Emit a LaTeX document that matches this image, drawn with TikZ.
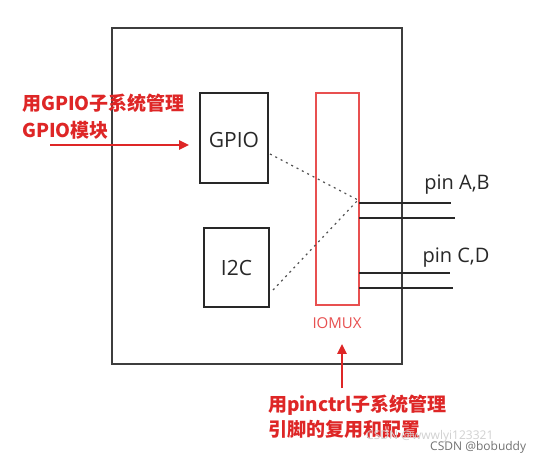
\documentclass[tikz,border=0pt]{standalone}
\usepackage{fontspec}
\setmainfont{Open Sans}
\newfontfamily\cjk{Noto Sans CJK SC}
\usetikzlibrary{arrows.meta}
\definecolor{redtxt}{RGB}{222,38,38}
\definecolor{redbox}{RGB}{232,80,80}
\definecolor{ink}{RGB}{40,40,40}
\tikzset{
  hand/.style={draw=ink, line width=1.3pt, minimum width=#1, inner sep=0pt},
  handlbl/.style={font=\fontsize{21}{21}\selectfont, text=ink},
  redlbl/.style={font=\cjk\bfseries\fontsize{19}{19}\selectfont, text=redtxt, anchor=west, inner sep=0pt},
  redarrow/.style={draw=redtxt, line width=2.4pt, -{Triangle[length=10pt,width=9pt]}},
  dotline/.style={draw=ink!80, line width=1.2pt, dash pattern=on 2pt off 4pt},
  pinline/.style={draw=ink, line width=1.2pt},
}
\begin{document}
\begin{tikzpicture}[x=1pt,y=-1pt]
\useasboundingbox[fill=white] (0,0) rectangle (541,462);
% outer chip
\node[draw=ink!90, line width=1.2pt, minimum width=290pt, minimum height=336pt, inner sep=0pt] (chip) at (257,196) {};
% GPIO box
\node[hand=68pt, minimum height=90pt] (gpio) at (234,138) {};
\node[handlbl] (gpiot) at (234,140) {GPIO};
% I2C box
\node[hand=65pt, minimum height=79pt] (i2c) at (236.5,267.5) {};
\node[handlbl] (i2ct) at (236.5,268) {I2C};
% IOMUX
\node[draw=redbox, line width=1.2pt, minimum width=43pt, minimum height=212pt, inner sep=0pt] (iomux) at (337.5,199) {};
\node[handlbl, font=\fontsize{15}{15}\selectfont, text=redbox] (iomuxt) at (337,323) {IOMUX};
% dotted links
\coordinate (meet) at (358,200);
\coordinate (gout) at (270,154);
\coordinate (iout) at (273,290);
\draw[dotline] (gout) -- (meet);
\draw[dotline] (iout) -- (meet);
% pins
\coordinate (p1) at (359,203); \coordinate (q1) at (451,203);
\coordinate (p2) at (359,218); \coordinate (q2) at (455,218);
\coordinate (p3) at (359,273); \coordinate (q3) at (450,273);
\coordinate (p4) at (359,288); \coordinate (q4) at (453,288);
\draw[pinline] (p1) -- (q1);
\draw[pinline] (p2) -- (q2);
\draw[pinline] (p3) -- (q3);
\draw[pinline] (p4) -- (q4);
\node[handlbl, font=\fontsize{20}{20}\selectfont] (pab) at (457,185) {pin A,B};
\node[handlbl, font=\fontsize{20}{20}\selectfont] (pcd) at (456,258) {pin C,D};
% red annotations
\node[redlbl] (t1) at (22,103) {用GPIO子系统管理};
\node[redlbl] (t2) at (22,130) {GPIO模块};
\coordinate (a1s) at (50,145);
\coordinate (a1e) at (189,145);
\draw[redarrow] (a1s) -- (a1e);
\node[redlbl] (t3) at (268,405) {用pinctrl子系统管理};
\node[redlbl] (t4) at (268,429) {引脚的复用和配置};
\coordinate (a2s) at (342,388);
\coordinate (a2e) at (342,344);
\draw[redarrow] (a2s) -- (a2e);
% watermarks
\node[font=\fontsize{12}{12}\selectfont, text=black!18, anchor=west, inner sep=0pt] (wm1) at (366,436) {CSDN @wwwlyi123321};
\node[font=\fontsize{12}{12}\selectfont, text=black!55, anchor=west, inner sep=0pt] (wm2) at (430,447) {CSDN @bobuddy};
\end{tikzpicture}
\end{document}
